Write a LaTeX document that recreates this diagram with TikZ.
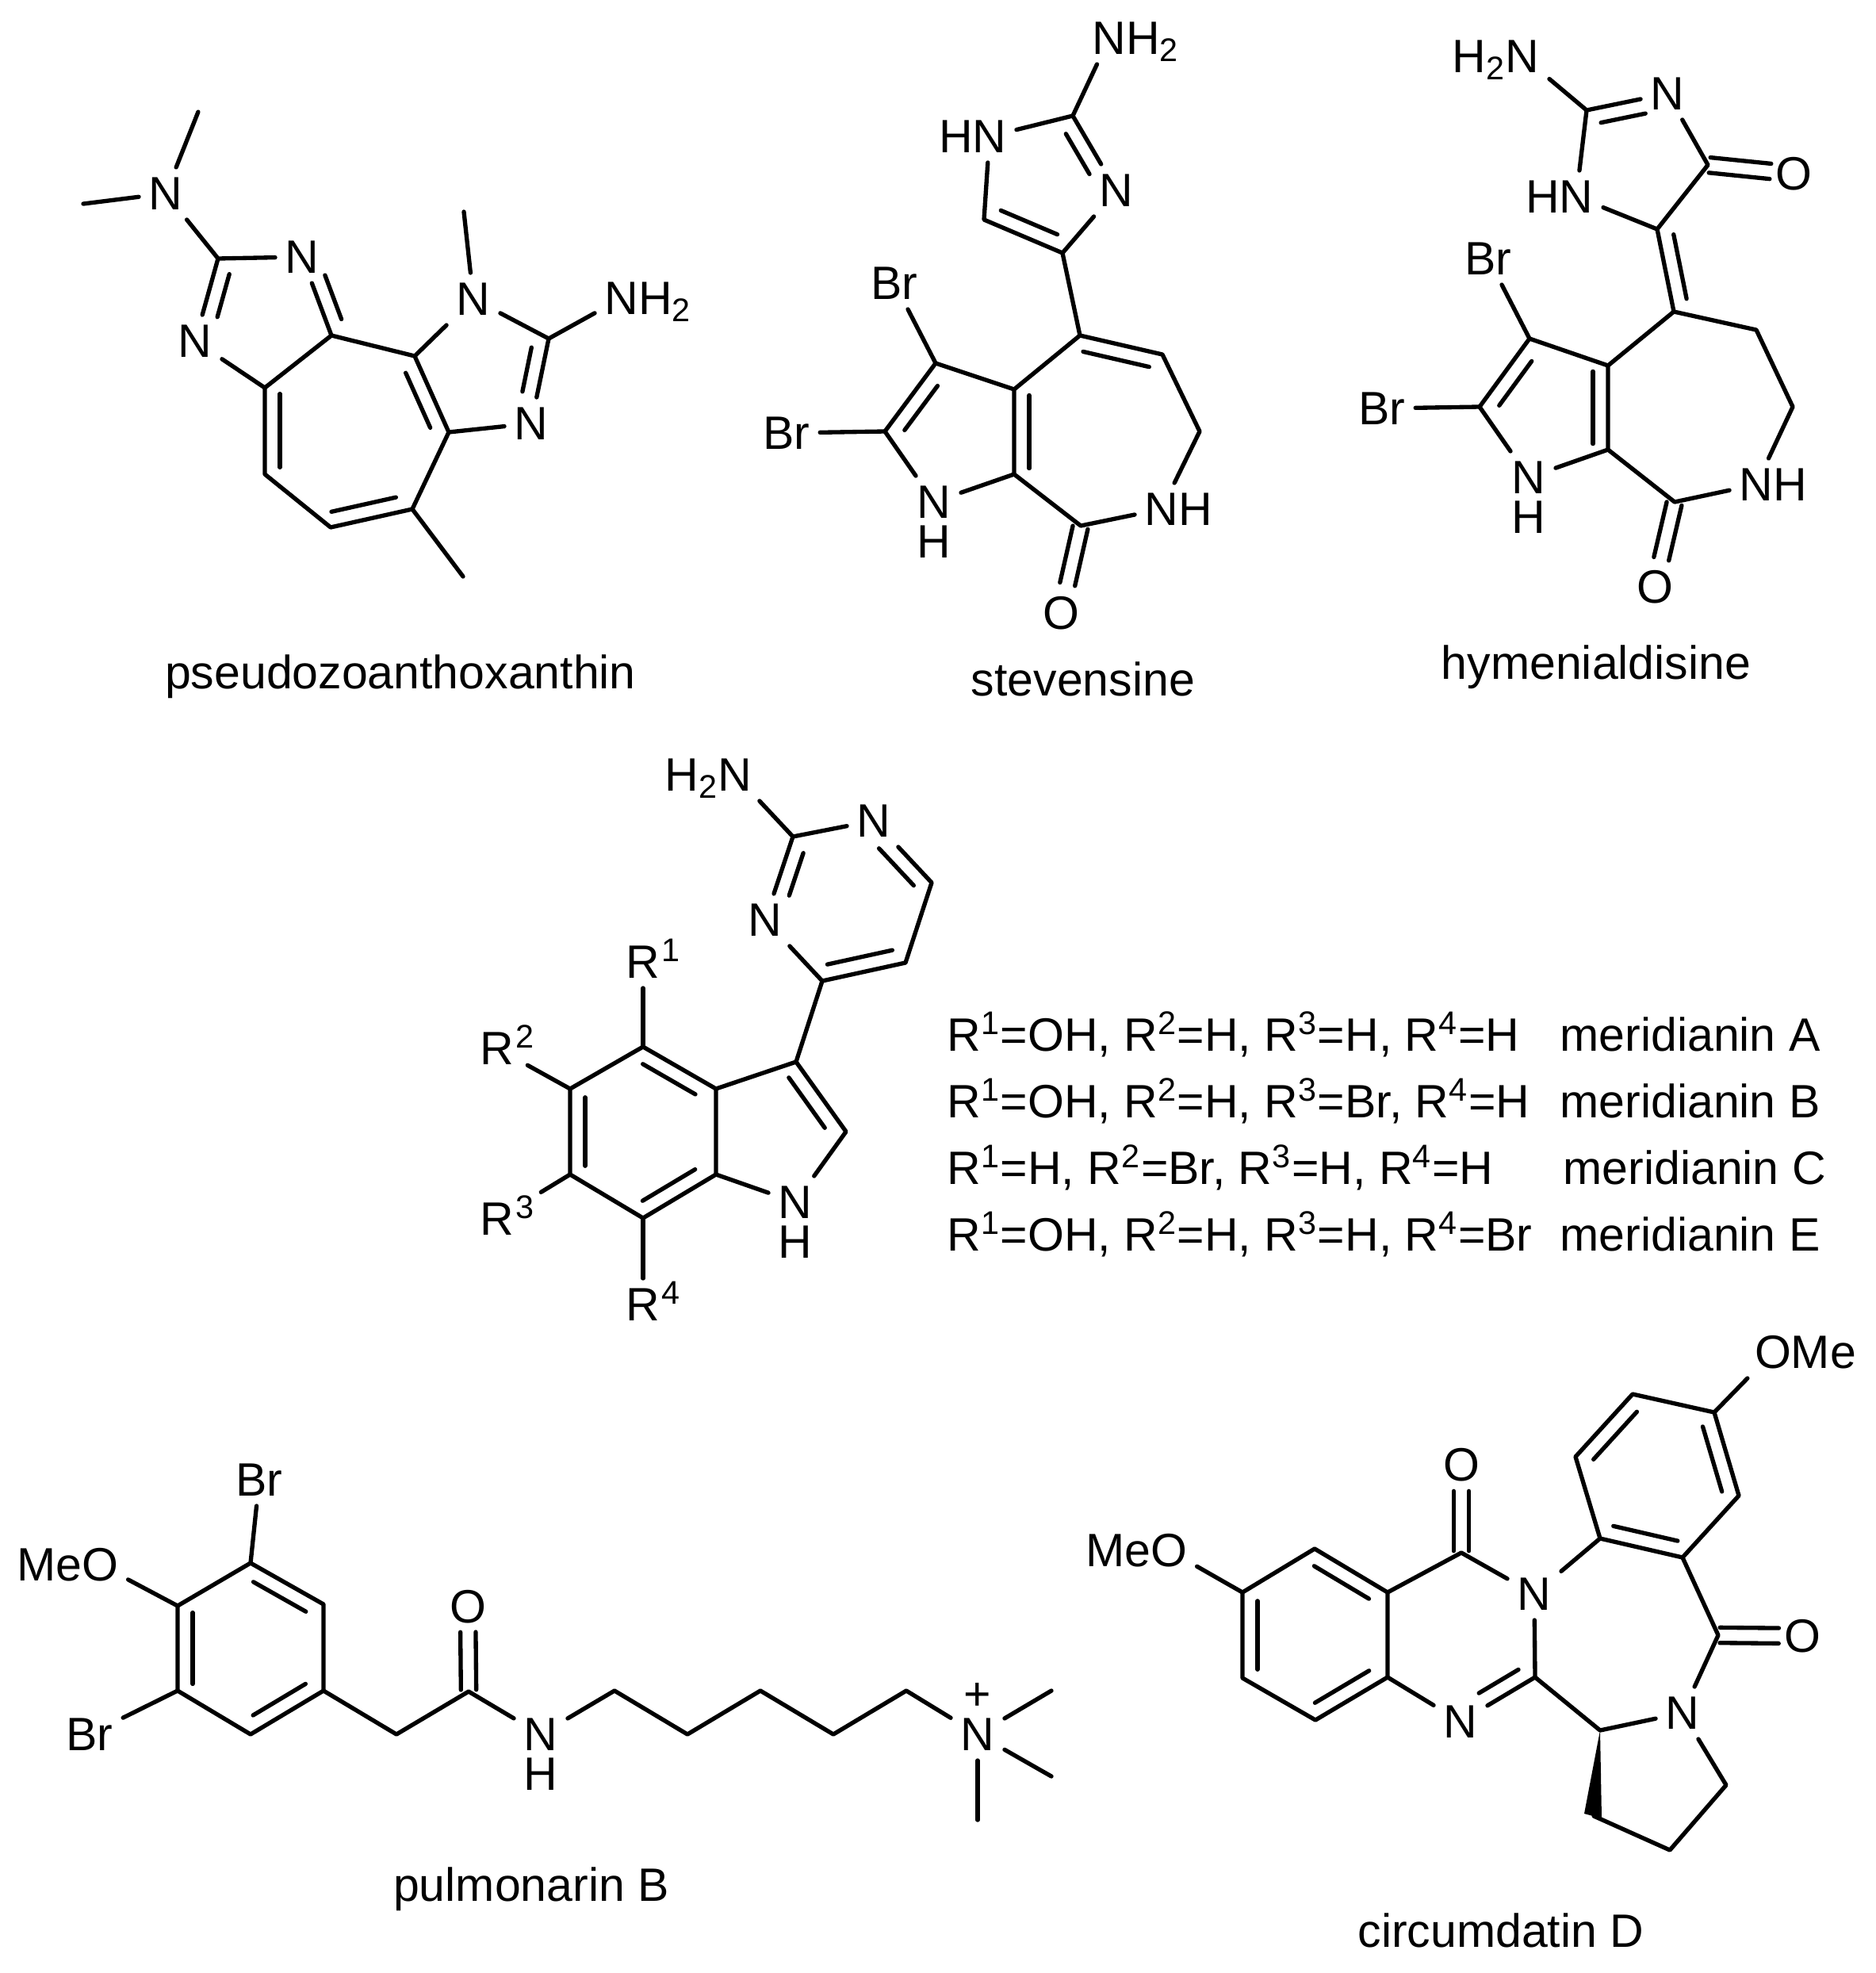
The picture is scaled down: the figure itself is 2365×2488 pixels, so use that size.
\documentclass[tikz,border=0pt]{standalone}
\usepackage{fontspec}
\setmainfont{Liberation Sans}
\usetikzlibrary{calc,positioning}

\def\lft{5.7pt}
\def\rgt{-5.7pt}
\newcommand{\dbl}[5]{\draw ($($(#1)!#3!90:(#2)$)!#4!($(#2)!#3!-90:(#1)$)$) -- ($($(#1)!#3!90:(#2)$)!#5!($(#2)!#3!-90:(#1)$)$);}
\newcommand{\dbc}[3]{\dbl{#1}{#2}{2.9pt}{0.02}{#3}\dbl{#1}{#2}{-2.9pt}{0.02}{#3}}

\tikzset{
  atom/.style={inner sep=3.8pt,outer sep=0pt,text height=12.2pt,text depth=0pt,font=\fontsize{17.7}{22}\selectfont},
  sidetext/.style={inner sep=0pt,outer sep=0pt,text height=12.2pt,text depth=0pt,font=\fontsize{17.7}{22}\selectfont},
  caption/.style={anchor=base,inner sep=0pt,font=\fontsize{17.7}{22}\selectfont},
  rowtext/.style={anchor=base west,inner sep=0pt,font=\fontsize{17.7}{22}\selectfont}
}

\begin{document}
\begin{tikzpicture}[x=0.3pt,y=-0.3pt,line width=1.6pt,line cap=round,line join=round]
\useasboundingbox (0,0) rectangle (2365,2488);

\node[atom] (pzN) at (209,244) {N};
\coordinate (pzm1) at (250,141);
\coordinate (pzm2) at (105,257);
\coordinate (pzc2) at (275,326);
\node[atom] (pzN3) at (381,324) {N};
\node[atom] (pzN1) at (246,430) {N};
\coordinate (pzc3) at (418,423);
\coordinate (pzc4) at (334,489);
\coordinate (pzc5) at (334,598);
\coordinate (pzc6) at (417,665);
\coordinate (pzc7) at (520,642);
\coordinate (pzm3) at (584,727);
\coordinate (pzc8) at (566,545);
\coordinate (pzc9) at (523,449);
\node[atom] (pzN4) at (597,377) {N};
\coordinate (pzm4) at (585,267);
\coordinate (pzc10) at (692,427);
\node[atom] (pzN5) at (784,376) {N};
\node[sidetext,right=-3.8pt of pzN5] (pzH) {H\textsubscript{2}};
\node[atom] (pzN6) at (670,534) {N};
\draw (pzm1) -- (pzN) -- (pzm2);
\draw (pzN) -- (pzc2) -- (pzN3) -- (pzc3) -- (pzc4) -- (pzN1) -- (pzc2);
\draw (pzc4) -- (pzc5) -- (pzc6) -- (pzc7) -- (pzc8) -- (pzc9) -- (pzc3);
\draw (pzc7) -- (pzm3);
\draw (pzc9) -- (pzN4) -- (pzm4);
\draw (pzN4) -- (pzc10) -- (pzN5);
\draw (pzc10) -- (pzN6) -- (pzc8);
\dbl{pzc2}{pzN1}{\lft}{.14}{.66}
\dbl{pzN3}{pzc3}{\lft}{.3}{.86}
\dbl{pzc4}{pzc5}{\lft}{.07}{.92}
\dbl{pzc6}{pzc7}{\lft}{.05}{.84}
\dbl{pzc9}{pzc8}{\rgt}{.14}{.86}
\dbl{pzc10}{pzN6}{\rgt}{.14}{.66}
\node[caption] (pzname) at (505,868) {pseudozoanthoxanthin};

\node[atom] (stN1) at (1399,48) {N};
\node[sidetext,right=-3.8pt of stN1] (stH1) {H\textsubscript{2}};
\coordinate (stc1) at (1353,146);
\node[atom] (stN2) at (1248,172) {N};
\node[sidetext,left=-3.8pt of stN2] (stH2) {H};
\node[atom] (stN3) at (1408,240) {N};
\coordinate (stc2) at (1340,319);
\coordinate (stc3) at (1241,277);
\coordinate (stc4) at (1362,423);
\coordinate (stc5) at (1466,447);
\coordinate (stc6) at (1513,544);
\node[atom] (stN4) at (1465,642) {N};
\node[sidetext,right=-3.8pt of stN4] (stH4) {H};
\coordinate (stc7) at (1363,663);
\node[atom] (stO) at (1338,773) {O};
\coordinate (stc8) at (1279,598);
\coordinate (stc9) at (1279,491);
\coordinate (stc10) at (1180,458);
\coordinate (stc11) at (1116,544);
\node[atom] (stN5) at (1178,633) {N};
\node[sidetext,below=-0.9pt of stN5] (stH5) {H};
\node[atom] (stBr1) at (1128,357) {Br};
\node[atom] (stBr2) at (992,546) {Br};
\draw (stN1) -- (stc1) -- (stN3) -- (stc2) -- (stc3) -- (stN2) -- (stc1);
\draw (stc2) -- (stc4) -- (stc5) -- (stc6) -- (stN4) -- (stc7) -- (stc8) -- (stc9) -- (stc4);
\draw (stc9) -- (stc10) -- (stc11) -- (stN5) -- (stc8);
\draw (stc10) -- (stBr1);
\draw (stc11) -- (stBr2);
\dbl{stc1}{stN3}{\rgt}{.14}{.68}
\dbl{stc3}{stc2}{\lft}{.14}{.86}
\dbl{stc4}{stc5}{\rgt}{.08}{.88}
\dbl{stc9}{stc8}{\lft}{.07}{.93}
\dbl{stc10}{stc11}{\lft}{.2}{.85}
\dbc{stc7}{stO}{.67}
\node[caption] (stname) at (1366,877) {stevensine};

\node[atom] (hyN1) at (1920,71) {N};
\node[sidetext,left=-3.8pt of hyN1] (hyH1) {H\textsubscript{2}};
\coordinate (hyc1) at (2001,139);
\node[atom] (hyN2) at (2103,118) {N};
\coordinate (hyc2) at (2154,208);
\node[atom] (hyO1) at (2262,219) {O};
\coordinate (hyc3) at (2090,289);
\node[atom] (hyN3) at (1988,248) {N};
\node[sidetext,left=-3.8pt of hyN3] (hyH3) {H};
\coordinate (hyc4) at (2111,393);
\coordinate (hyc5) at (2215,416);
\coordinate (hyc6) at (2261,513);
\node[atom] (hyN4) at (2215,611) {N};
\node[sidetext,right=-3.8pt of hyN4] (hyH4) {H};
\coordinate (hyc7) at (2112,633);
\node[atom] (hyO2) at (2087,740) {O};
\coordinate (hyc8) at (2028,567);
\coordinate (hyc9) at (2028,461);
\coordinate (hyc10) at (1929,427);
\coordinate (hyc11) at (1866,513);
\node[atom] (hyN5) at (1928,602) {N};
\node[sidetext,below=-0.9pt of hyN5] (hyH5) {H};
\node[atom] (hyBr1) at (1877,326) {Br};
\node[atom] (hyBr2) at (1743,515) {Br};
\draw (hyN1) -- (hyc1) -- (hyN2) -- (hyc2) -- (hyc3) -- (hyN3) -- (hyc1);
\draw (hyc3) -- (hyc4) -- (hyc5) -- (hyc6) -- (hyN4) -- (hyc7) -- (hyc8) -- (hyc9) -- (hyc4);
\draw (hyc9) -- (hyc10) -- (hyc11) -- (hyN5) -- (hyc8);
\draw (hyc10) -- (hyBr1);
\draw (hyc11) -- (hyBr2);
\dbl{hyc1}{hyN2}{\rgt}{.14}{.69}
\dbc{hyc2}{hyO1}{.73}
\dbl{hyc3}{hyc4}{\lft}{.1}{.88}
\dbl{hyc10}{hyc11}{\lft}{.2}{.85}
\dbl{hyc9}{hyc8}{\rgt}{.07}{.93}
\dbc{hyc7}{hyO2}{.67}
\node[caption] (hyname) at (2013,856) {hymenialdisine};

\node[atom] (meN1) at (927,977) {N};
\node[sidetext,left=-3.8pt of meN1] (meH1) {H\textsubscript{2}};
\coordinate (mec1) at (1000,1055);
\node[atom] (meN2) at (1102,1035) {N};
\coordinate (mec2) at (1175,1113);
\coordinate (mec3) at (1142,1214);
\coordinate (mec4) at (1037,1237);
\node[atom] (meN3) at (965,1160) {N};
\coordinate (mec5) at (1004,1339);
\coordinate (mec6) at (1067,1427);
\node[atom] (meN4) at (1003,1516) {N};
\node[sidetext,below=-0.9pt of meN4] (meH4) {H};
\coordinate (mec7) at (903,1481);
\coordinate (mec8) at (903,1373);
\coordinate (mec9) at (811,1320);
\coordinate (mec10) at (719,1373);
\coordinate (mec11) at (719,1481);
\coordinate (mec12) at (811,1536);
\node[atom] (meR1) at (811,1213) {R};
\node[atom] (meR4) at (811,1645) {R};
\node[atom] (meR2) at (627,1322) {R};
\node[atom] (meR3) at (627,1537) {R};
\node[sidetext,right=-3pt of meR1] (meS1) {\textsuperscript{1}};
\node[sidetext,right=-3pt of meR2] (meS2) {\textsuperscript{2}};
\node[sidetext,right=-3pt of meR3] (meS3) {\textsuperscript{3}};
\node[sidetext,right=-3pt of meR4] (meS4) {\textsuperscript{4}};
\draw (meN1) -- (mec1) -- (meN2) -- (mec2) -- (mec3) -- (mec4) -- (meN3) -- (mec1);
\draw (mec4) -- (mec5) -- (mec6) -- (meN4) -- (mec7) -- (mec8) -- (mec5);
\draw (mec8) -- (mec9) -- (mec10) -- (mec11) -- (mec12) -- (mec7);
\draw (mec9) -- (meR1);
\draw[shorten >=1.5pt] (mec10) -- (meR2);
\draw[shorten >=7.5pt] (mec11) -- (meR3);
\draw (mec12) -- (meR4);
\dbl{mec9}{mec8}{\rgt}{.1}{.82}
\dbl{mec10}{mec11}{\lft}{.1}{.9}
\dbl{mec12}{mec7}{\lft}{.1}{.82}
\dbl{mec5}{mec6}{\rgt}{.1}{.82}
\dbl{mec4}{mec3}{\lft}{.1}{.88}
\dbl{mec2}{meN2}{\lft}{.12}{.72}
\dbl{mec1}{meN3}{\lft}{.14}{.65}

\node[rowtext] (rowa) at (1192,1325) {R\textsuperscript{1}=OH, R\textsuperscript{2}=H, R\textsuperscript{3}=H, R\textsuperscript{4}=H};
\node[rowtext] (rowb) at (1192,1409) {R\textsuperscript{1}=OH, R\textsuperscript{2}=H, R\textsuperscript{3}=Br, R\textsuperscript{4}=H};
\node[rowtext] (rowc) at (1192,1493) {R\textsuperscript{1}=H, R\textsuperscript{2}=Br, R\textsuperscript{3}=H, R\textsuperscript{4}=H};
\node[rowtext] (rowe) at (1192,1577) {R\textsuperscript{1}=OH, R\textsuperscript{2}=H, R\textsuperscript{3}=H, R\textsuperscript{4}=Br};
\node[rowtext] (namea) at (1965,1325) {meridianin A};
\node[rowtext] (nameb) at (1965,1409) {meridianin B};
\node[rowtext] (namec) at (1969,1493) {meridianin C};
\node[rowtext] (namee) at (1965,1577) {meridianin E};

\node[atom] (puBr1) at (327,1866) {Br};
\coordinate (puc1) at (316,1971);
\coordinate (puc2) at (408,2023);
\coordinate (puc3) at (408,2132);
\coordinate (puc4) at (316,2187);
\coordinate (puc5) at (224,2132);
\coordinate (puc6) at (224,2025);
\node[atom] (puO1) at (126,1973) {O};
\node[sidetext,left=-3.8pt of puO1] (puMe) {Me};
\node[atom] (puBr2) at (113,2187) {Br};
\coordinate (puc7) at (500,2187);
\coordinate (puc8) at (591,2133);
\node[atom] (puO2) at (590,2026) {O};
\node[atom] (puN1) at (682,2187) {N};
\node[sidetext,below=-0.9pt of puN1] (puH) {H};
\coordinate (puc9) at (775,2132);
\coordinate (puc10) at (867,2187);
\coordinate (puc11) at (959,2132);
\coordinate (puc12) at (1051,2187);
\coordinate (puc13) at (1143,2132);
\node[atom] (puN2) at (1233,2187) {N};
\node[sidetext] (puplus) at (1233,2136) {+};
\coordinate (pum1) at (1326,2132);
\coordinate (pum2) at (1326,2240);
\coordinate (pum3) at (1233,2295);
\draw (puc1) -- (puc2) -- (puc3) -- (puc4) -- (puc5) -- (puc6) -- (puc1);
\draw (puc1) -- (puBr1);
\draw (puc6) -- (puO1);
\draw (puc5) -- (puBr2);
\draw (puc3) -- (puc7) -- (puc8) -- (puN1) -- (puc9) -- (puc10) -- (puc11) -- (puc12) -- (puc13) -- (puN2);
\draw (puN2) -- (pum1);
\draw (puN2) -- (pum2);
\draw (puN2) -- (pum3);
\dbl{puc1}{puc2}{\rgt}{.14}{.86}
\dbl{puc3}{puc4}{\rgt}{.14}{.86}
\dbl{puc5}{puc6}{\rgt}{.08}{.92}
\dbc{puc8}{puO2}{.7}
\node[caption] (puname) at (670,2397) {pulmonarin B};

\node[atom] (ciO1) at (2236,1705) {O};
\node[sidetext,right=-3.8pt of ciO1] (ciMe1) {Me};
\coordinate (cic1) at (2162,1781);
\coordinate (cic2) at (2059,1758);
\coordinate (cic3) at (1987,1837);
\coordinate (cic4) at (2018,1940);
\coordinate (cic5) at (2122,1964);
\coordinate (cic6) at (2193,1886);
\coordinate (cic7) at (2167,2062);
\node[atom] (ciO2) at (2273,2063) {O};
\node[atom] (ciN1) at (2122,2160) {N};
\coordinate (cic8) at (2018,2182);
\coordinate (cic9) at (2177,2251);
\coordinate (cic10) at (2106,2333);
\coordinate (cic11) at (2010,2290);
\coordinate (cic12) at (1936,2115);
\node[atom] (ciN2) at (1935,2010) {N};
\node[atom] (ciN3) at (1842,2171) {N};
\coordinate (cic13) at (1750,2115);
\coordinate (cic14) at (1750,2008);
\coordinate (cic15) at (1843,1958);
\node[atom] (ciO3) at (1843,1847) {O};
\coordinate (cic16) at (1658,1953);
\coordinate (cic17) at (1567,2008);
\coordinate (cic18) at (1567,2116);
\coordinate (cic19) at (1659,2169);
\node[atom] (ciO4) at (1474,1955) {O};
\node[sidetext,left=-3.8pt of ciO4] (ciMe4) {Me};
\draw (ciO1) -- (cic1) -- (cic2) -- (cic3) -- (cic4) -- (cic5) -- (cic6) -- (cic1);
\draw (cic5) -- (cic7) -- (ciN1) -- (cic8) -- (cic12) -- (ciN2) -- (cic4);
\draw (ciN1) -- (cic9) -- (cic10) -- (cic11);
\draw (cic12) -- (ciN3) -- (cic13) -- (cic14) -- (cic15) -- (ciN2);
\draw (cic14) -- (cic16) -- (cic17) -- (cic18) -- (cic19) -- (cic13);
\draw (cic17) -- (ciO4);
\fill (cic8) -- (1998,2287) -- (2020,2293) -- cycle;
\dbl{cic2}{cic3}{\lft}{.12}{.88}
\dbl{cic1}{cic6}{\rgt}{.12}{.9}
\dbl{cic4}{cic5}{\lft}{.12}{.9}
\dbc{cic7}{ciO2}{.72}
\dbl{cic12}{ciN3}{\rgt}{.12}{.65}
\dbc{cic15}{ciO3}{.7}
\dbl{cic16}{cic14}{\rgt}{.1}{.85}
\dbl{cic17}{cic18}{\lft}{.1}{.9}
\dbl{cic19}{cic13}{\lft}{.1}{.85}
\node[caption] (ciname) at (1893,2455) {circumdatin D};

\end{tikzpicture}
\end{document}
